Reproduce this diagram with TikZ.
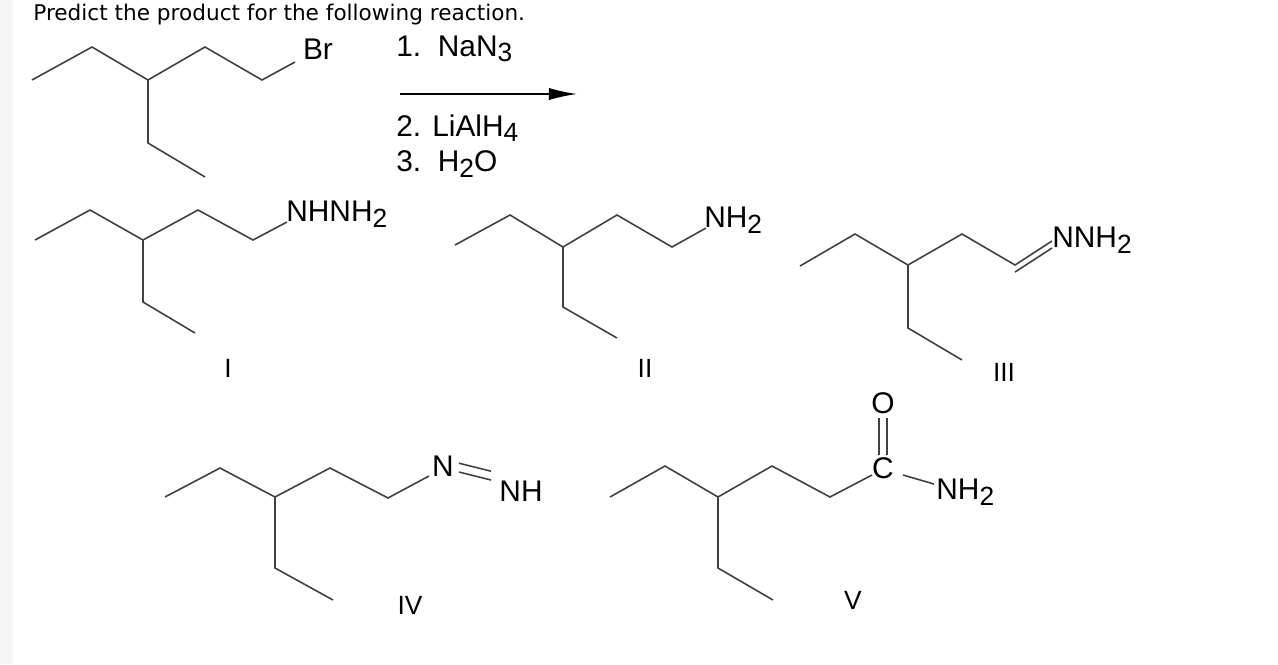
\documentclass[tikz,border=0pt]{standalone}
\usepackage{fontspec}
\usetikzlibrary{arrows.meta}
\setmainfont{Liberation Sans}
\newfontfamily\titlefont{DejaVu Sans}
\newcommand{\sbs}[1]{\raisebox{-0.35ex}{\fontsize{15}{17}\selectfont #1}}
\begin{document}
\begin{tikzpicture}[x=0.02cm,y=-0.02cm,
  bond/.style={line width=0.9pt,color=black!75},
  lbl/.style={inner sep=0pt,font=\fontsize{17}{20}\selectfont},
  num/.style={inner sep=0pt,font=\fontsize{15}{18}\selectfont}]
\useasboundingbox (0,0) rectangle (1278,664);
\fill[black!4] (0,0) rectangle (13,664);
\node[anchor=west,inner sep=0pt,font=\titlefont\fontsize{12.3}{15}\selectfont] (title) at (33,15) {Predict the product for the following reaction.};
% reactant
\coordinate (r1) at (32,80); \coordinate (r2) at (92,47); \coordinate (r3) at (148,80);
\coordinate (r4) at (205,47); \coordinate (r5) at (262,80); \coordinate (r6) at (295,62);
\coordinate (r7) at (148,143); \coordinate (r8) at (205,177);
\node[lbl] (br) at (318,49) {Br};
\draw[bond] (r1)--(r2)--(r3)--(r4)--(r5)--(r6) (r3)--(r7)--(r8);
\coordinate (a1) at (400,94); \coordinate (a2) at (577,94);
\draw[line width=1pt,-{Latex[length=16pt,width=7pt]}] (a1)--(a2);
\node[lbl,anchor=west] (s1) at (396,49) {1.\ \ NaN\sbs{3}};
\node[lbl,anchor=west] (s2) at (396,128) {2. LiAlH\sbs{4}};
\node[lbl,anchor=west] (s3) at (396,164) {3.\ \ H\sbs{2}O};
% I
\coordinate (i1) at (35,240); \coordinate (i2) at (90,210); \coordinate (i3) at (143,240);
\coordinate (i4) at (198,210); \coordinate (i5) at (253,240); \coordinate (i6) at (287,222);
\coordinate (i7) at (143,302); \coordinate (i8) at (195,333);
\draw[bond] (i1)--(i2)--(i3)--(i4)--(i5)--(i6) (i3)--(i7)--(i8);
\node[lbl,anchor=west] (lI) at (286,214) {NHNH\sbs{2}};
\node[num] (nI) at (228,368) {I};
% II
\coordinate (j1) at (455,245); \coordinate (j2) at (510,215); \coordinate (j3) at (563,247);
\coordinate (j4) at (617,215); \coordinate (j5) at (672,247); \coordinate (j6) at (706,228);
\coordinate (j7) at (563,307); \coordinate (j8) at (617,338);
\draw[bond] (j1)--(j2)--(j3)--(j4)--(j5)--(j6) (j3)--(j7)--(j8);
\node[lbl,anchor=west] (lII) at (704,220) {NH\sbs{2}};
\node[num] (nII) at (645,368) {II};
% III
\coordinate (k1) at (800,266); \coordinate (k2) at (855,234); \coordinate (k3) at (908,265);
\coordinate (k4) at (962,234); \coordinate (k5) at (1015,265); \coordinate (k6) at (1052,241);
\coordinate (k7) at (908,328); \coordinate (k8) at (962,360);
\draw[bond] (k1)--(k2)--(k3)--(k4)--(k5)--(k6) (k3)--(k7)--(k8);
\draw[bond] ([yshift=-4]k5)--([yshift=-4]k6);
\node[lbl,anchor=west] (lIII) at (1052,240) {NNH\sbs{2}};
\node[num] (nIII) at (1004,372) {III};
% IV
\coordinate (m1) at (165,497); \coordinate (m2) at (220,468); \coordinate (m3) at (275,497);
\coordinate (m4) at (330,468); \coordinate (m5) at (388,498); \coordinate (m6) at (429,476);
\coordinate (m7) at (275,568); \coordinate (m8) at (333,600);
\draw[bond] (m1)--(m2)--(m3)--(m4)--(m5)--(m6) (m3)--(m7)--(m8);
\node[lbl] (nN) at (443,466) {N};
\node[lbl] (nNH) at (521,491) {NH};
\coordinate (d1) at (459,472); \coordinate (d2) at (491,480);
\draw[bond] (d1)--(d2) ([yshift=5]d1)--([yshift=5]d2);
\node[num] (nIV) at (410,605) {IV};
% V
\coordinate (v1) at (610,497); \coordinate (v2) at (665,466); \coordinate (v3) at (718,497);
\coordinate (v4) at (772,466); \coordinate (v5) at (830,497); \coordinate (v6) at (872,475);
\coordinate (v7) at (718,568); \coordinate (v8) at (773,600);
\draw[bond] (v1)--(v2)--(v3)--(v4)--(v5)--(v6) (v3)--(v7)--(v8);
\node[lbl] (nC) at (883,468) {C};
\node[lbl] (nO) at (883,403) {O};
\draw[bond] (879,418)--(879,455) (887,418)--(887,455);
\draw[bond] (903,475)--(934,484);
\node[lbl,anchor=west] (lV) at (936,492) {NH\sbs{2}};
\node[num] (nV) at (853,600) {V};
\end{tikzpicture}
\end{document}
